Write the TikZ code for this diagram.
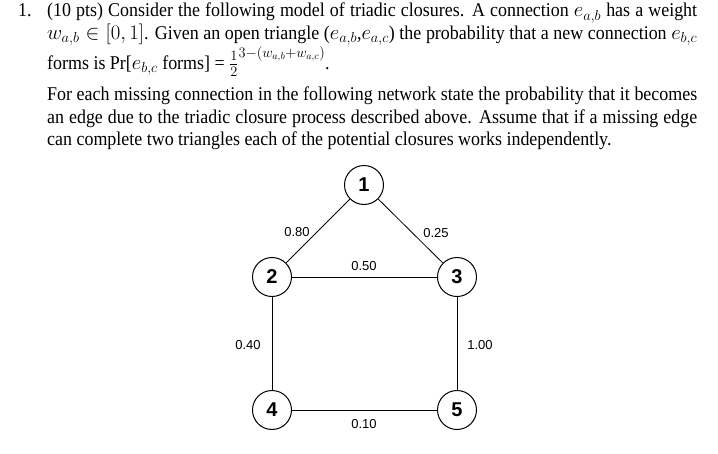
\documentclass[tikz,border=0pt]{standalone}
\usepackage{fontspec}
\setmainfont[FakeStretch=0.92]{Liberation Serif}
\newfontfamily\arialf{Liberation Sans}
\begin{document}
\begin{tikzpicture}[x=1pt,y=-1pt,
  vtx/.style={circle,draw,line width=1pt,minimum size=39pt,inner sep=0pt,font=\arialf\fontsize{20}{20}\selectfont\bfseries},
  wlab/.style={font=\arialf\fontsize{13}{13}\selectfont,inner sep=1pt},
  edge/.style={line width=0.8pt}]
\useasboundingbox (0,0) rectangle (718,453);
\node[anchor=north west,inner sep=0pt,text width=650pt,align=justify,font=\fontsize{19.5}{22.5}\selectfont] (t1) at (47,3)
{(10 pts) Consider the following model of triadic closures. A connection $e_{a,b}$ has a weight $w_{a,b}\in[0,1]$. Given an open triangle ($e_{a,b}$,$e_{a,c}$) the probability that a new connection $e_{b,c}$ forms is Pr[$e_{b,c}$ forms] = $\frac{1}{2}^{3-(w_{a,b}+w_{a,c})}$.\par\vspace{9pt}
For each missing connection in the following network state the probability that it be\-comes an edge due to the triadic closure process described above. Assume that if a missing edge can complete two triangles each of the potential closures works indepen\-dently.};
\node[anchor=north west,inner sep=0pt,font=\fontsize{19.5}{22.5}\selectfont] (num) at (18,3) {1.};
\node[vtx] (n1) at (364,185) {1};
\node[vtx] (n2) at (272,277) {2};
\node[vtx] (n3) at (457,277) {3};
\node[vtx] (n4) at (272,410) {4};
\node[vtx] (n5) at (457,410) {5};
\draw[edge] (n1) -- (n2);
\draw[edge] (n1) -- (n3);
\draw[edge] (n2) -- (n3);
\draw[edge] (n2) -- (n4);
\draw[edge] (n3) -- (n5);
\draw[edge] (n4) -- (n5);
\node[wlab] (l12) at (297,232) {0.80};
\node[wlab] (l13) at (436,233) {0.25};
\node[wlab] (l23) at (364,266) {0.50};
\node[wlab] (l24) at (248,345) {0.40};
\node[wlab] (l35) at (480,345) {1.00};
\node[wlab] (l45) at (364,424) {0.10};
\end{tikzpicture}
\end{document}
